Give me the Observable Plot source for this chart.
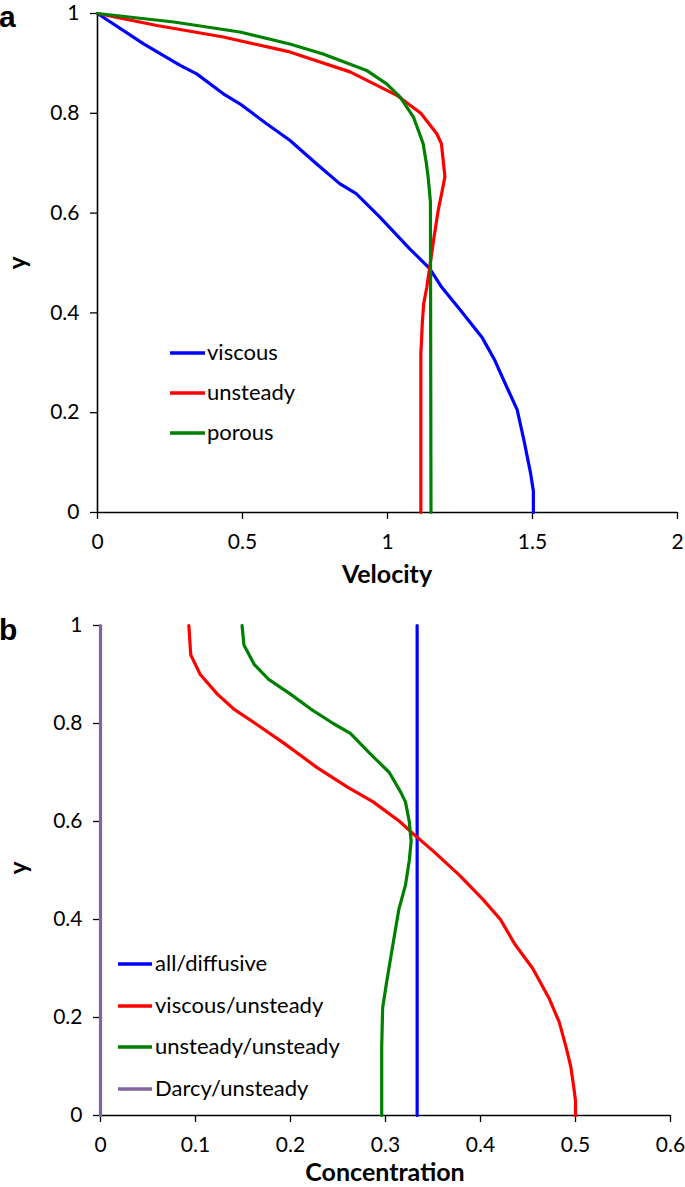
<!DOCTYPE html>
<html>
<head>
<meta charset="utf-8">
<script src="https://cdn.jsdelivr.net/npm/d3@7"></script>
<script src="https://cdn.jsdelivr.net/npm/@observablehq/plot@0.6"></script>
<style>
  html, body { margin: 0; padding: 0; background: #fff; }
  #wrap { width: 685px; height: 1187px; overflow: hidden; }
  svg { display: block; overflow: visible; }
</style>
</head>
<body>
<div id="wrap"></div>
<script>
// ---------- Panel a: velocity profiles ----------
const velXTicks = [0, 0.5, 1, 1.5, 2];
const velXLabels = ["0", "0.5", "1", "1.5", "2"];
const yTicks = [0, 0.2, 0.4, 0.6, 0.8, 1];
const yLabels = ["0", "0.2", "0.4", "0.6", "0.8", "1"];

const velSeriesNames = ["viscous", "unsteady", "porous"];
const velSeriesColors = ["#0000FF", "#FF0000", "#008000"];

const viscousY = [1, 0.939, 0.896, 0.879, 0.839, 0.819, 0.779, 0.746, 0.699, 0.659, 0.639, 0.593, 0.529, 0.489, 0.453, 0.406, 0.35, 0.305, 0.266, 0.206, 0.146, 0.08, 0.043, 0];
const viscousV = [0, 0.159, 0.285, 0.342, 0.434, 0.491, 0.583, 0.663, 0.755, 0.835, 0.892, 0.972, 1.076, 1.145, 1.185, 1.251, 1.327, 1.37, 1.40, 1.447, 1.47, 1.493, 1.503, 1.503];

const unsteadyY = [1, 0.976, 0.953, 0.923, 0.883, 0.853, 0.836, 0.80, 0.759, 0.739, 0.70, 0.673, 0.64, 0.606, 0.55, 0.493, 0.45, 0.419, 0.38, 0.34, 0.32, 0];
const unsteadyV = [0, 0.205, 0.434, 0.663, 0.871, 0.974, 1.032, 1.115, 1.17, 1.186, 1.193, 1.198, 1.187, 1.175, 1.16, 1.146, 1.135, 1.125, 1.12, 1.117, 1.115, 1.115];

const porousY = [1, 0.983, 0.963, 0.939, 0.919, 0.886, 0.859, 0.833, 0.793, 0.76, 0.739, 0.70, 0.673, 0.623, 0];
const porousV = [0, 0.263, 0.491, 0.663, 0.778, 0.928, 0.997, 1.043, 1.089, 1.11, 1.123, 1.134, 1.140, 1.148, 1.150];

// ---------- Panel b: concentration profiles ----------
const concXTicks = [0, 0.1, 0.2, 0.3, 0.4, 0.5, 0.6];
const concXLabels = ["0", "0.1", "0.2", "0.3", "0.4", "0.5", "0.6"];

const concSeriesNames = ["all/diffusive", "viscous/unsteady", "unsteady/unsteady", "Darcy/unsteady"];
const concSeriesColors = ["#0000FF", "#FF0000", "#008000", "#8064A2"];

const diffusiveY = [0, 1];
const diffusiveC = [0.3333, 0.3333];

const viscUnsY = [1.0, 0.94, 0.90, 0.86, 0.83, 0.80, 0.76, 0.71, 0.67, 0.64, 0.60, 0.575, 0.54, 0.49, 0.44, 0.40, 0.35, 0.30, 0.24, 0.19, 0.14, 0.10, 0.06, 0.03, 0];
const viscUnsC = [0.093, 0.095, 0.105, 0.123, 0.140, 0.163, 0.193, 0.228, 0.260, 0.287, 0.315, 0.329, 0.350, 0.378, 0.403, 0.421, 0.436, 0.455, 0.472, 0.483, 0.490, 0.495, 0.498, 0.500, 0.500];

const unsUnsY = [1.0, 0.96, 0.92, 0.89, 0.86, 0.83, 0.80, 0.78, 0.74, 0.70, 0.66, 0.64, 0.60, 0.56, 0.52, 0.47, 0.42, 0.34, 0.27, 0.22, 0.14, 0];
const unsUnsC = [0.149, 0.151, 0.162, 0.177, 0.200, 0.221, 0.245, 0.263, 0.283, 0.304, 0.316, 0.321, 0.325, 0.327, 0.325, 0.321, 0.314, 0.307, 0.301, 0.297, 0.296, 0.296];

const darcyY = [0, 1];
const darcyC = [0, 0];

// ---------- helpers ----------
const toRows = (ys, xs) => ys.map((y, i) => ({x: xs[i], y}));
const FONT = "Lato, 'Open Sans', sans-serif";
const LETTER_FONT = "'Liberation Sans', Arial, sans-serif";

function addLegend(svg, names, colors, x1, x2, tx, rowYs) {
  const g = d3.select(svg).append("g");
  names.forEach((n, i) => {
    g.append("line").attr("x1", x1).attr("x2", x2).attr("y1", rowYs[i]).attr("y2", rowYs[i])
      .attr("stroke", colors[i]).attr("stroke-width", 3.5);
    g.append("text").attr("x", tx).attr("y", rowYs[i]).attr("dy", "0.3em")
      .attr("text-anchor", "start")
      .attr("font-family", FONT).attr("font-size", 22).attr("fill", "#000").text(n);
  });
}

function addTitles(svg, {title, titleX, titleY, yLabelX, yLabelY, letter, letterY}) {
  const s = d3.select(svg);
  s.append("text").attr("x", titleX).attr("y", titleY).attr("text-anchor", "middle")
    .attr("font-family", FONT).attr("font-weight", "bold").attr("font-size", 25).attr("fill", "#000").text(title);
  s.append("text").attr("transform", `translate(${yLabelX},${yLabelY}) rotate(-90)`).attr("text-anchor", "middle")
    .attr("font-family", FONT).attr("font-weight", "bold").attr("font-size", 24).attr("fill", "#000").text("y");
  s.append("text").attr("x", -1).attr("y", letterY).attr("text-anchor", "start")
    .attr("font-family", LETTER_FONT).attr("font-weight", "bold").attr("font-size", 30).attr("fill", "#000").text(letter);
}

function panel({xDomain, xTicks, xLabels, series, colors, height, marginTop, marginBottom, marginLeft, marginRight}) {
  const marks = [
    Plot.axisY(yTicks, {label: null, tickSize: 7, tickPadding: 11, tickFormat: (d) => yLabels[yTicks.indexOf(d)], stroke: "#000", strokeWidth: 1.3}),
    Plot.axisX(xTicks, {label: null, tickSize: 7, tickPadding: 15, tickFormat: (d) => xLabels[xTicks.indexOf(d)], stroke: "#000", strokeWidth: 1.3}),
    Plot.ruleY([0], {stroke: "#000", strokeWidth: 1.6}),
    Plot.ruleX([0], {stroke: "#000", strokeWidth: 1.6}),
    ...series.map((s, i) => Plot.line(s, {x: "x", y: "y", stroke: colors[i], strokeWidth: 3.2}))
  ];
  return Plot.plot({
    width: 685, height, marginTop, marginBottom, marginLeft, marginRight,
    style: {fontFamily: FONT, fontSize: "21px", color: "#000", background: "#fff", overflow: "visible"},
    x: {domain: xDomain, axis: null},
    y: {domain: [0, 1], axis: null},
    marks
  });
}

const plotA = panel({
  xDomain: [0, 2], xTicks: velXTicks, xLabels: velXLabels,
  series: [toRows(viscousY, viscousV), toRows(unsteadyY, unsteadyV), toRows(porousY, porousV)],
  colors: velSeriesColors,
  height: 600, marginTop: 13, marginBottom: 88, marginLeft: 97, marginRight: 8
});
const plotB = panel({
  xDomain: [0, 0.6], xTicks: concXTicks, xLabels: concXLabels,
  series: [toRows(diffusiveY, diffusiveC), toRows(viscUnsY, viscUnsC), toRows(unsUnsY, unsUnsC), toRows(darcyY, darcyC)],
  colors: concSeriesColors,
  height: 587, marginTop: 25, marginBottom: 72, marginLeft: 100, marginRight: 15
});

document.getElementById("wrap").append(plotA, plotB);

addTitles(plotA, {title: "Velocity", titleX: 387, titleY: 583, yLabelX: 26, yLabelY: 263, letter: "a", letterY: 27});
addTitles(plotB, {title: "Concentration", titleX: 385, titleY: 581, yLabelX: 27, yLabelY: 268, letter: "b", letterY: 40});

addLegend(plotA, velSeriesNames, velSeriesColors, 170, 205, 207, [353, 393, 433]);
addLegend(plotB, concSeriesNames, concSeriesColors, 118, 152, 155, [364, 406, 447, 489]);
</script>
</body>
</html>
